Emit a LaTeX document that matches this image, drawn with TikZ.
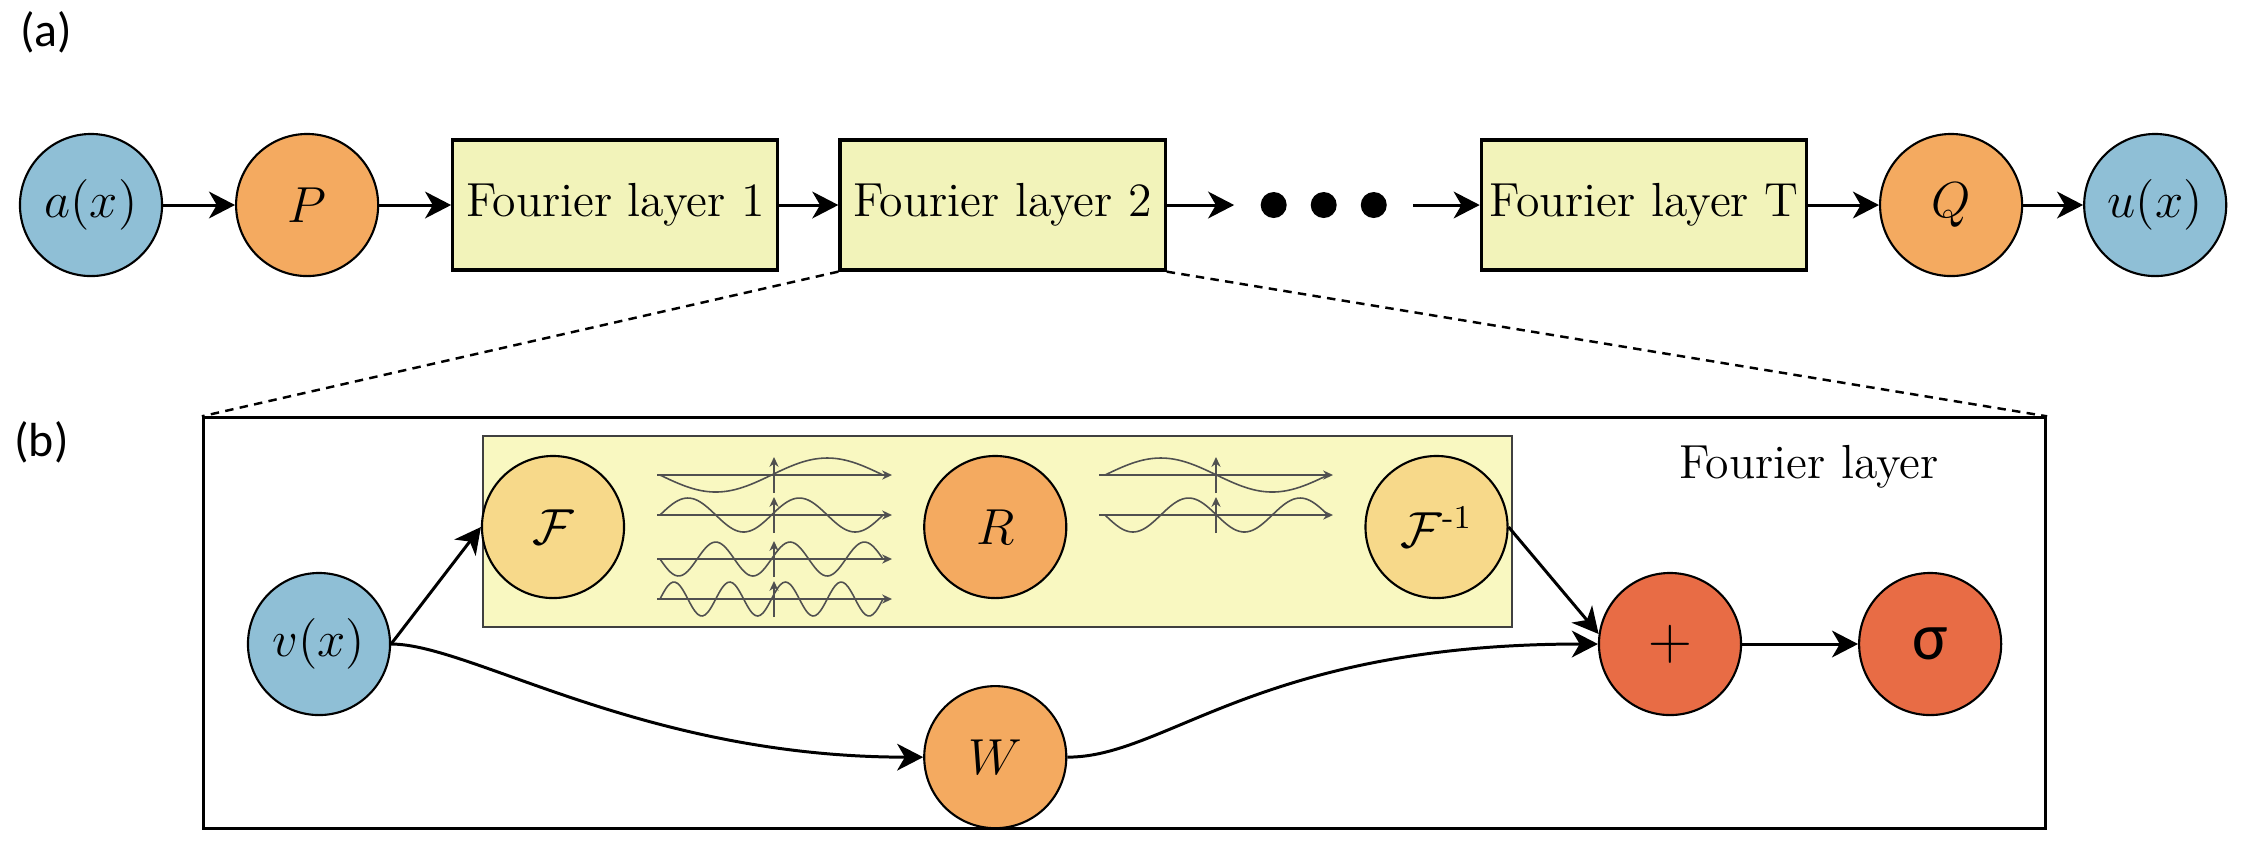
\documentclass[tikz,border=0pt]{standalone}
\usepackage{fontspec}
\usepackage{tikz}
\usepackage{xcolor}
\usetikzlibrary{arrows.meta,positioning}
\newfontfamily\carlito{Carlito}
\definecolor{InBlue}{RGB}{143,191,214}
\definecolor{LiftOrange}{RGB}{244,170,96}
\definecolor{FFTOrange}{RGB}{247,217,138}
\definecolor{ActRed}{RGB}{232,108,69}
\definecolor{LayerYellow}{RGB}{242,243,186}
\definecolor{SpecYellow}{RGB}{249,248,193}
\definecolor{WaveGray}{RGB}{80,80,80}
\tikzset{%
	field/.style={circle, draw=black, line width=0.6pt, fill=InBlue,
		minimum size=1.42cm, inner sep=0pt, text centered,
		font=\fontsize{13.5}{15}\selectfont},
	lift/.style={field, fill=LiftOrange},
	fft/.style={field, fill=FFTOrange},
	act/.style={field, fill=ActRed},
	layerbox/.style={rectangle, draw=black, line width=0.9pt, fill=LayerYellow,
		minimum width=3.25cm, minimum height=1.30cm, inner sep=0pt,
		font=\fontsize{13.6}{16}\selectfont},
	tag/.style={anchor=west, inner sep=0pt, font=\carlito\fontsize{13.6}{16}\selectfont},
	wave/.style={-, WaveGray, line width=0.45pt},
	axis/.style={WaveGray, line width=0.45pt, -{Stealth[length=2.8pt,width=2.6pt]}},
	zoomline/.style={-, line width=0.7pt, dash pattern=on 2.4pt off 1.8pt},
}

\begin{document}
\begin{tikzpicture}[
    x=0.01cm, y=-0.01cm, ->, >={Stealth[length=7.4pt,width=7.6pt,inset=2.2pt]},
    line width=0.85pt, node distance=2cm]

    \useasboundingbox (0,0) rectangle (2248,856);

    % (a) the whole network
    \node [tag] (tagA) at (19,32) {(a)};
    \node [field] (ax) at (91,205) {$a(x)$};
    \node [lift] (P) [right of = ax, node distance=2.16cm] {$P$};
    \node [layerbox] (fl1) [right of = P, node distance=3.08cm] {Fourier layer 1};
    \node [layerbox] (fl2) [right of = fl1, node distance=3.87cm] {Fourier layer 2};
    \node [minimum width=1.76cm, inner sep=0pt] (dots) [right of = fl2, node distance=3.21cm] {};
    \node [layerbox] (flT) [right of = dots, node distance=3.20cm] {Fourier layer T};
    \node [lift] (Q) [right of = flT, node distance=3.07cm] {$Q$};
    \node [field] (ux) [right of = Q, node distance=2.04cm] {$u(x)$};
    \foreach \dx in {-0.5,0,0.5}
        \fill ([xshift=\dx cm]dots.center) circle (0.13cm);

    \path (ax) edge (P) (P) edge (fl1) (fl1) edge (fl2) (fl2) edge (dots)
          (dots) edge (flT) (flT) edge (Q) (Q) edge (ux);

    % (b) one Fourier layer
    \node [tag] (tagB) at (13,442) {(b)};
    \node [draw, line width=0.9pt, minimum width=18.41cm, minimum height=4.10cm,
        inner sep=0pt] (layer) at (1124.5,623) {};
    \node [draw=black!75, line width=0.6pt, fill=SpecYellow, minimum width=10.29cm,
        minimum height=1.91cm, inner sep=0pt] (spec) at (997.5,531.5) {};
    \node [font=\fontsize{13.6}{16}\selectfont] (layername) at (1809,467) {Fourier layer};

    \draw [zoomline] (fl2.south west) -- (layer.north west);
    \draw [zoomline] (fl2.south east) -- (layer.north east);

    \node [fft] (F) at (553,527) {$\mathcal{F}$};
    \node [lift] (R) [right of = F, node distance=4.42cm] {$R$};
    \node [fft] (Finv) [right of = R, node distance=4.41cm] {$\mathcal{F}$\textsuperscript{-1}};
    \node [field] (vx) at (319,644) {$v(x)$};
    \node [lift] (W) [below of = R, node distance=2.30cm] {$W$};
    \node [act, font=\fontsize{16}{18}\selectfont] (plus) at (1670,644) {$+$};
    \node [act, font=\carlito\fontsize{19}{21}\selectfont] (sigma)
        [right of = plus, node distance=2.60cm] {σ};

    % modes before and after R
    \foreach \k/\yy/\s in {1/475/1, 2/515/-1, 3/559/1, 4/599/-1} {
        \draw [axis] (657,\yy) -- (892,\yy);
        \draw [axis] (774,\yy+18) -- (774,\yy-18);
        \draw [wave] plot[domain=660:883, samples=90, smooth]
            (\x, {\yy+\s*17*sin(\k*360/223*(\x-660))});
    }
    \foreach \k/\yy/\s in {1/475/-1, 2/515/1} {
        \draw [axis] (1099,\yy) -- (1333,\yy);
        \draw [axis] (1216,\yy+18) -- (1216,\yy-18);
        \draw [wave] plot[domain=1105:1328, samples=90, smooth]
            (\x, {\yy+\s*17*sin(\k*360/223*(\x-1105))});
    }

    \draw (vx.east) -- (F.west);
    \draw (vx.east) .. controls +(80,0) and +(-280,0) .. (W.west);
    \draw (W.east) .. controls +(100,0) and +(-340,0) .. (plus.west);
    \draw (Finv.east) -- (plus.172);
    \draw (plus) -- (sigma);

\end{tikzpicture}
\end{document}
